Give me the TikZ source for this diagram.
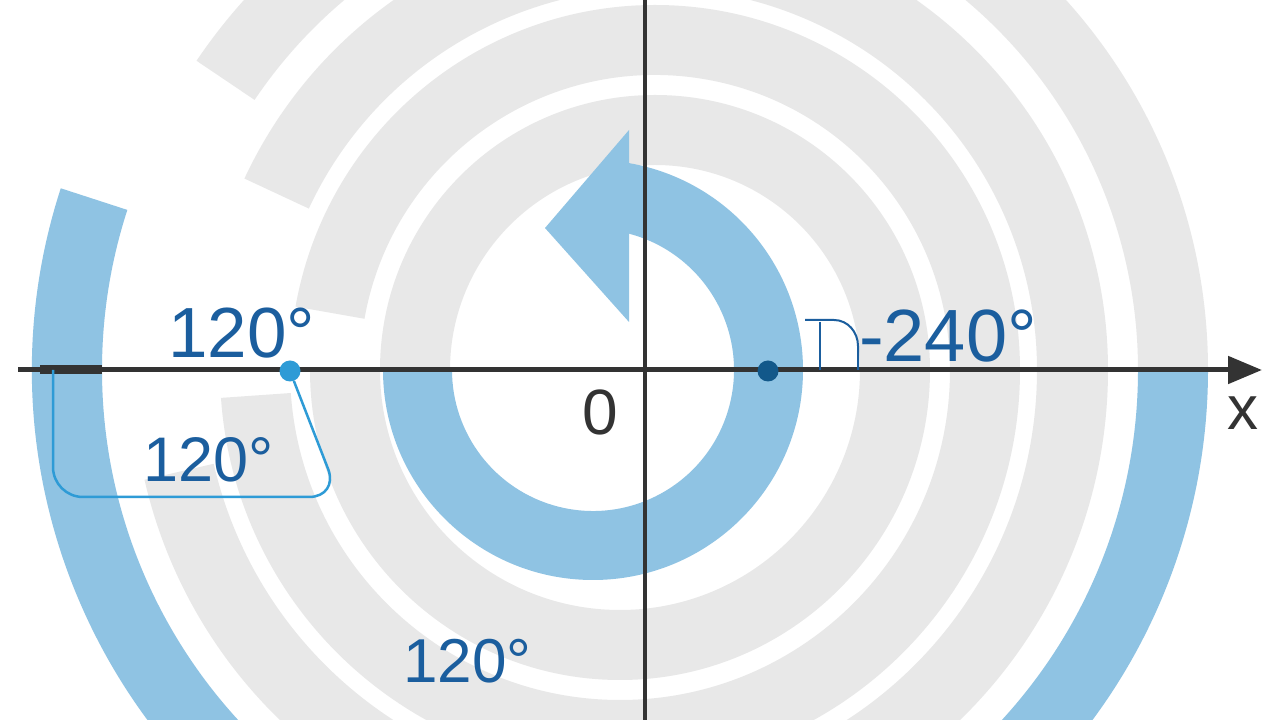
\documentclass[tikz,border=0pt]{standalone}
\usepackage{fontspec}
\setmainfont{Liberation Sans}
\usepackage{tikz}
\usetikzlibrary{arrows.meta,calc}
\definecolor{gris}{RGB}{232,232,232}
\definecolor{bleuclair}{RGB}{143,195,227}
\definecolor{bleutexte}{RGB}{27,94,158}
\definecolor{bleulien}{RGB}{46,155,214}
\definecolor{bleufonce}{RGB}{18,88,138}
\definecolor{axe}{RGB}{51,51,51}
\newcommand{\bande}[6]{\fill[#1] ($(#2)+(#5:#4pt)$) arc[start angle=#5,end angle=#6,radius=#4pt] -- ($(#2)+(#6:#3pt)$) arc[start angle=#6,end angle=#5,radius=#3pt] -- cycle;}

\begin{document}
\begin{tikzpicture}[x=1pt,y=1pt]
  \tikzstyle{angle}=[text=bleutexte,inner sep=0pt,anchor=base west]
  \tikzstyle{point}=[circle,inner sep=0pt,minimum size=21pt]
  \tikzstyle{lien}=[draw=bleulien,line width=2.5pt,rounded corners=30pt]

  \useasboundingbox (0,0) rectangle (1280,720);
  \fill[white] (0,0) rectangle (1280,720);

  \coordinate (Ch) at (655,350);
  \coordinate (Cb) at (620,350);
  \coordinate (Ci) at (593,350);

  % anneaux gris du haut
  \bande{gris}{Ch}{205}{275}{0}{180}
  \bande{gris}{Ch}{295}{365}{0}{170}
  \bande{gris}{Ch}{382}{453}{0}{155}
  \bande{gris}{Ch}{483}{553}{0}{146}
  % anneaux gris du bas
  \bande{gris}{Cb}{240}{310}{180}{360}
  \bande{gris}{Cb}{330}{400}{184}{360}
  \bande{gris}{Cb}{417}{488}{193}{360}
  % anneaux bleus
  \bande{bleuclair}{Cb}{518}{588}{162}{360}
  \fill[bleuclair] ($(Ci)+(180:210pt)$) arc[start angle=180,end angle=440.1,radius=210pt]
    -- ($(Ci)+(75.2:141pt)$) arc[start angle=435.2,end angle=180,radius=141pt] -- cycle;
  \fill[bleuclair] (545,492) -- (629,590) -- (629,398) -- cycle;

  % axes
  \coordinate (X0) at (18,350);
  \coordinate (X1) at (1262,350);
  \coordinate (Y0) at (645,0);
  \coordinate (Y1) at (645,720);
  \draw[axe,line width=5pt,-{Triangle[length=34pt,width=27pt]}] (X0) -- (X1);
  \draw[axe,line width=4pt] (Y0) -- (Y1);
  \draw[axe,line width=9pt] (40,350) -- (102,350);

  % points et lien
  \node[point,fill=bleulien]  (P) at (290,349) {};
  \node[point,fill=bleufonce] (Q) at (768,349) {};
  \coordinate (K1) at (339,223);
  \coordinate (K2) at (53,223);
  \coordinate (T)  at (53,350);
  \draw[lien] (P) -- (K1) -- (K2) -- (T);

  % marque de l'angle
  \draw[bleutexte,line width=2pt] (805,400) -- (834,400) to[out=0,in=90] (858,374) -- (858,350);
  \draw[bleutexte,line width=2pt] (820,398) -- (820,350);

  % etiquettes
  \node[angle,font=\fontsize{71}{71}\selectfont] (A) at (168,362) {120°};
  \node[angle,font=\fontsize{63}{63}\selectfont] (B) at (143,238) {120°};
  \node[angle,font=\fontsize{62}{62}\selectfont] (C) at (403,37) {120°};
  \node[angle,font=\fontsize{74}{74}\selectfont] (D) at (859,358) {-240°};
  \node[angle,text=axe,font=\fontsize{64}{64}\selectfont] (Z) at (582,285) {0};
  \node[angle,text=axe,font=\fontsize{62}{62}\selectfont] (X) at (1227,290) {x};
\end{tikzpicture}
\end{document}
